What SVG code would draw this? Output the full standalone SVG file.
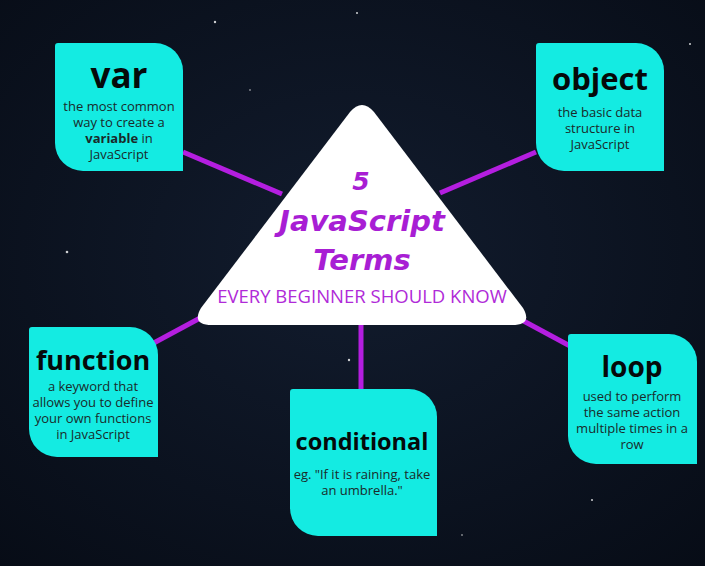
<svg xmlns="http://www.w3.org/2000/svg" width="705" height="566" viewBox="0 0 705 566">
<defs>
<radialGradient id="bg" cx="0.5" cy="0.45" r="0.75"><stop offset="0" stop-color="#121c2e"/><stop offset="1" stop-color="#070c16"/></radialGradient>
<style>
.box{fill:#14ebe2}
.t{font-family:"Open Sans","Noto Sans",sans-serif;font-weight:700;fill:#050a0a;text-anchor:middle}
.d{font-family:"Open Sans","Noto Sans",sans-serif;font-size:13px;fill:#1a2a2a;text-anchor:middle}
.c{stroke:#b41ee0;stroke-width:5;fill:none}
.h{font-family:"DejaVu Sans",sans-serif;font-weight:700;font-style:italic;fill:#a81ed4;text-anchor:middle}
</style>
</defs>
<rect width="705" height="566" fill="url(#bg)"/>
<g fill="#fff" opacity="0.8">
<circle cx="215" cy="22" r="1.2"/><circle cx="357" cy="13" r="1"/><circle cx="67" cy="252" r="1.3"/><circle cx="349" cy="360" r="1.2"/><circle cx="592" cy="500" r="1"/><circle cx="462" cy="535" r="0.8"/><circle cx="690" cy="44" r="1"/><circle cx="250" cy="90" r="0.8"/>
</g>
<g id="connectors">
<line class="c" x1="183" y1="152" x2="282" y2="194"/>
<line class="c" x1="536" y1="152" x2="440" y2="193"/>
<line class="c" x1="150" y1="345" x2="202" y2="317"/>
<line class="c" x1="361" y1="320" x2="361" y2="390"/>
<line class="c" x1="518" y1="318" x2="570" y2="346"/>
</g>
<g id="center">
<path d="M350,112 Q362,98 374,112 L523,308 Q533,325 512,325 L212,325 Q191,325 201,308 Z" fill="#fff"/>
<text class="h" x="361" y="190" font-size="25">5</text>
<text class="h" x="362" y="231" font-size="29">JavaScript</text>
<text class="h" x="362" y="270" font-size="29">Terms</text>
<text x="362" y="303" font-family="'Open Sans','Noto Sans',sans-serif" font-size="18.5" fill="#b02ad8" text-anchor="middle">EVERY BEGINNER SHOULD KNOW</text>
</g>
<g id="var">
<path class="box" d="M58,43 H155 A28,28 0 0 1 183,71 V171 H83 A28,28 0 0 1 55,143 V46 A3,3 0 0 1 58,43 Z"/>
<text class="t" x="119" y="88" font-size="35">var</text>
<text class="d" x="119" y="111">the most common</text>
<text class="d" x="119" y="127">way to create a</text>
<text class="d" x="119" y="143"><tspan font-weight="700">variable</tspan> in</text>
<text class="d" x="119" y="159">JavaScript</text>
</g>
<g id="object">
<path class="box" d="M539,43 H636 A28,28 0 0 1 664,71 V171 H564 A28,28 0 0 1 536,143 V46 A3,3 0 0 1 539,43 Z"/>
<text class="t" x="600" y="90" font-size="31">object</text>
<text class="d" x="600" y="117">the basic data</text>
<text class="d" x="600" y="133">structure in</text>
<text class="d" x="600" y="149">JavaScript</text>
</g>
<g id="function">
<path class="box" d="M32,327 H130 A28,28 0 0 1 158,355 V457 H57 A28,28 0 0 1 29,429 V330 A3,3 0 0 1 32,327 Z"/>
<text class="t" x="93" y="370" font-size="27">function</text>
<text class="d" x="93" y="391">a keyword that</text>
<text class="d" x="93" y="407">allows you to define</text>
<text class="d" x="93" y="423">your own functions</text>
<text class="d" x="93" y="439">in JavaScript</text>
</g>
<g id="conditional">
<path class="box" d="M293,389 H409 A28,28 0 0 1 437,417 V536 H318 A28,28 0 0 1 290,508 V392 A3,3 0 0 1 293,389 Z"/>
<text class="t" x="362" y="450" font-size="23.5">conditional</text>
<text class="d" x="362" y="479">eg. "If it is raining, take</text>
<text class="d" x="362" y="495">an umbrella."</text>
</g>
<g id="loop">
<path class="box" d="M571,334 H669 A28,28 0 0 1 697,362 V464 H596 A28,28 0 0 1 568,436 V337 A3,3 0 0 1 571,334 Z"/>
<text class="t" x="632" y="377" font-size="28">loop</text>
<text class="d" x="632" y="401">used to perform</text>
<text class="d" x="632" y="417">the same action</text>
<text class="d" x="632" y="433">multiple times in a</text>
<text class="d" x="632" y="449">row</text>
</g>
</svg>
